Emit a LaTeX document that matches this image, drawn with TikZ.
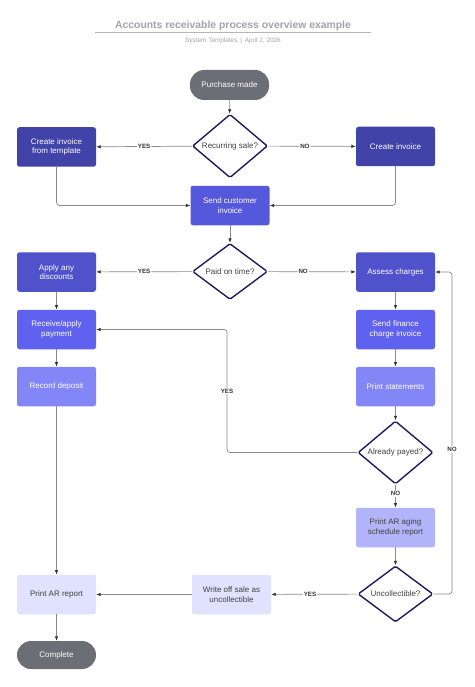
\documentclass[tikz,border=0pt]{standalone}
\usepackage{fontspec}
\setmainfont{Liberation Sans}
\usetikzlibrary{shapes.geometric,arrows.meta}
\definecolor{pillc}{HTML}{6B6E75}
\definecolor{indA}{HTML}{4143A8}
\definecolor{indB}{HTML}{5052CC}
\definecolor{indS}{HTML}{5558DA}
\definecolor{indC}{HTML}{5F62EE}
\definecolor{indD}{HTML}{8386F7}
\definecolor{indE}{HTML}{B2B4F9}
\definecolor{indF}{HTML}{E1E2FD}
\definecolor{navy}{HTML}{1E1B5E}
\definecolor{linec}{HTML}{8A8A8E}
\definecolor{titlec}{HTML}{A3A3AB}
\definecolor{lblc}{HTML}{333333}
\tikzset{
  box/.style={rectangle, rounded corners=2.5pt, minimum width=79pt, minimum height=39.5pt, inner sep=1pt, align=center, font=\fontsize{8}{9.5}\selectfont, text=white},
  pill/.style={rectangle, rounded corners=14pt, fill=pillc, text=white, minimum width=79pt, minimum height=30pt, font=\fontsize{8}{9.5}\selectfont},
  decision/.style={diamond, draw=navy, line width=1.4pt, fill=white, rounded corners=1.5pt, minimum width=75pt, minimum height=56pt, inner sep=0pt, text=black!75, font=\fontsize{8}{9.5}\selectfont},
  conn/.style={draw=linec, line width=0.7pt, rounded corners=3pt, -{Latex[length=4.5pt,width=3.5pt,color=black!80]}},
  lbl/.style={fill=white, inner sep=1pt, text=lblc, font=\bfseries\fontsize{6.2}{7}\selectfont}
}
\begin{document}
\begin{tikzpicture}[x=1pt,y=-1pt]
\fill[white] (0,0) rectangle (474,687);
\useasboundingbox (0,0) rectangle (474,687);
% title
\node[text=titlec, font=\bfseries\fontsize{10.4}{12}\selectfont] (title) at (233,26) {Accounts receivable process overview example};
\draw[titlec!80, line width=0.8pt] (95,32.7) -- (371,32.7);
\node[text=titlec, font=\fontsize{6.4}{7}\selectfont] (sub) at (233,40.5) {System Templates \,|\, April 2, 2026};
% nodes
\node[pill] (start) at (229.5,85) {Purchase made};
\node[decision] (rec) at (230,146) {Recurring sale?};
\node[box, fill=indA] (cit) at (56.5,147) {Create invoice\\from template};
\node[box, fill=indA] (ci) at (395.5,146.5) {Create invoice};
\node[box, fill=indS] (send) at (230,205.5) {Send customer\\invoice};
\node[decision] (paid) at (230,271.5) {Paid on time?};
\node[box, fill=indB] (apply) at (56.5,272) {Apply any\\discounts};
\node[box, fill=indB] (assess) at (395.5,272) {Assess charges};
\node[box, fill=indC] (recv) at (56.5,329.5) {Receive/apply\\payment};
\node[box, fill=indC] (fin) at (395.5,329.5) {Send finance\\charge invoice};
\node[box, fill=indD] (dep) at (56.5,386.5) {Record deposit};
\node[box, fill=indD] (stat) at (395.5,386.5) {Print statements};
\node[decision] (paye) at (395.5,452.5) {Already payed?};
\node[box, fill=indE, text=black!75] (aging) at (395.5,527.5) {Print AR aging\\schedule report};
\node[decision] (unc) at (395.5,594) {Uncollectible?};
\node[box, fill=indF, text=black!75] (wo) at (231.5,594.5) {Write off sale as\\uncollectible};
\node[box, fill=indF, text=black!75] (arr) at (56.5,594.5) {Print AR report};
\node[pill, minimum height=28pt] (done) at (56.5,655) {Complete};
\coordinate (yesx) at (227,0);
\coordinate (nox) at (452,0);
% connectors
\draw[conn] (start) -- (rec);
\draw[conn] (rec) -- node[lbl, pos=0.5] {YES} (cit);
\draw[conn] (rec) -- node[lbl, pos=0.42] {NO} (ci);
\draw[conn] (cit.south) |- (send.west);
\draw[conn] (ci.south) |- (send.east);
\draw[conn] (send) -- (paid);
\draw[conn] (paid) -- node[lbl, pos=0.5] {YES} (apply);
\draw[conn] (paid) -- node[lbl, pos=0.4] {NO} (assess);
\draw[conn] (apply) -- (recv);
\draw[conn] (recv) -- (dep);
\draw[conn] (dep) -- (arr);
\draw[conn] (arr) -- (done);
\draw[conn] (assess) -- (fin);
\draw[conn] (fin) -- (stat);
\draw[conn] (stat) -- (paye);
\draw[conn] (paye) -- node[lbl, pos=0.4] {NO} (aging);
\draw[conn] (paye.west) -| (yesx |- recv.east) node[lbl, pos=0.75] {YES} -- (recv.east);
\draw[conn] (aging) -- (unc);
\draw[conn] (unc) -- node[lbl, pos=0.55] {YES} (wo);
\draw[conn] (wo) -- (arr);
\draw[conn] (unc.east) -| (nox |- assess.east) node[lbl, pos=0.725] {NO} -- (assess.east);
\end{tikzpicture}
\end{document}
